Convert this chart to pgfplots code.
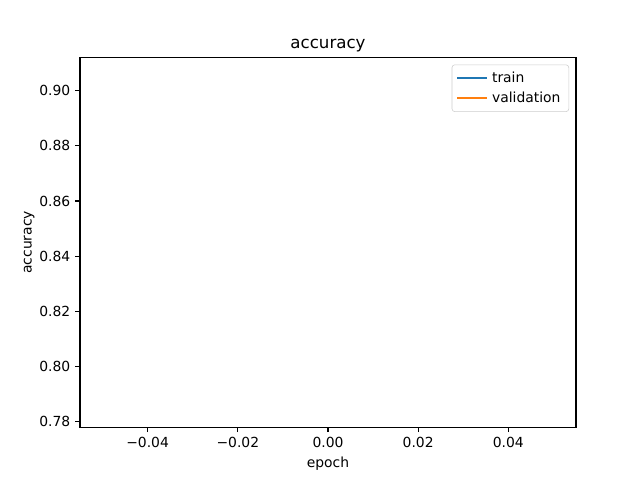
\documentclass[border=0pt]{standalone}
\usepackage{fontspec}
\setmainfont{DejaVu Sans}
\usepackage{pgfplots}
\pgfplotsset{compat=1.18}

\definecolor{c0}{HTML}{1F77B4}
\definecolor{c1}{HTML}{FF7F0E}

\begin{document}
\begin{tikzpicture}
  \begin{axis}[
     scale only axis,
     width=357.12pt, height=266.11pt,
     xmin=-0.055, xmax=0.055,
     ymin=0.7781, ymax=0.9119,
     scaled x ticks=false, scaled y ticks=false,
     xtick={-0.04,-0.02,0,0.02,0.04},
     xticklabels={−0.04,−0.02,0.00,0.02,0.04},
     ytick={0.78,0.80,0.82,0.84,0.86,0.88,0.90},
     yticklabels={0.78,0.80,0.82,0.84,0.86,0.88,0.90},
     tick align=outside, tick pos=left,
     major tick length=3.5pt,
     every tick/.style={black, line width=0.8pt},
     axis line style={line width=0.8pt},
     tick label style={font=\fontsize{10}{12}\selectfont},
     xticklabel style={yshift=-0.5pt},
     title={accuracy},
     title style={font=\fontsize{12}{14}\selectfont, yshift=-5.5pt},
     xlabel={epoch}, ylabel={accuracy},
     label style={font=\fontsize{10}{12}\selectfont},
     xlabel style={yshift=0.5pt},
     ylabel style={yshift=-3.5pt},
     legend style={font=\fontsize{10}{12}\selectfont, draw=black!20,
        rounded corners=2pt, at={(1,1)}, anchor=north east,
        xshift=-5pt, yshift=-5pt,
        inner xsep=3pt, inner ysep=3pt, row sep=1.5pt,
        nodes={inner xsep=3pt}},
     legend cell align=left,
     legend image code/.code={\draw[#1] (0cm,0cm) -- (0.75cm,0cm);},
  ]
    \addplot[c0, line width=1.5pt] coordinates {(0,0.7842)};
    \addlegendentry{train}
    \addplot[c1, line width=1.5pt] coordinates {(0,0.9057)};
    \addlegendentry{validation}
  \end{axis}
  \path ([shift={(-57.6pt,-38.016pt)}]current axis.south west)
    rectangle ([shift={(46.08pt,41.472pt)}]current axis.north east);
\end{tikzpicture}
\end{document}
